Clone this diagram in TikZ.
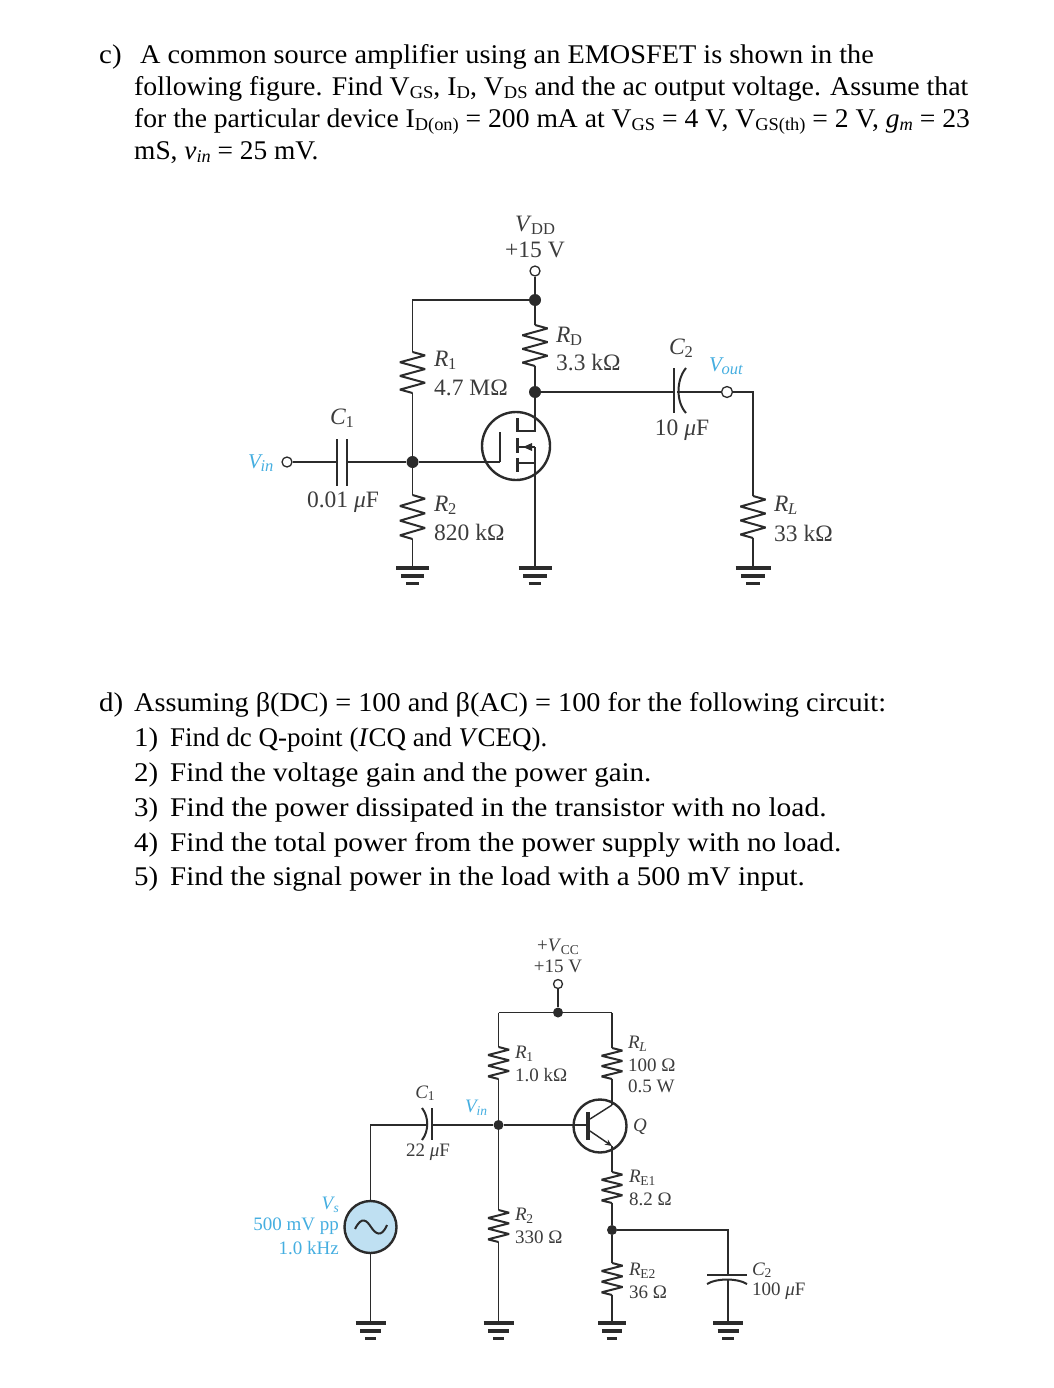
\documentclass[tikz,border=0pt]{standalone}
\usepackage{fontspec}
\usepackage{graphicx}
\setmainfont{Liberation Serif}
\newfontfamily\bodyf[FakeStretch=1.07]{Liberation Serif}
\usetikzlibrary{arrows.meta}
\definecolor{ink}{HTML}{2B2B2B}
\definecolor{lab}{HTML}{3C3C3C}
\definecolor{sky}{HTML}{45AEE0}
\definecolor{srcfill}{HTML}{BFE0F2}
\newcommand\bsub[1]{{\fontsize{18}{18}\selectfont\raisebox{-2.5pt}{#1}}}
\newcommand\tsub[1]{\kern-0.5pt{\fontsize{16.5}{16.5}\selectfont\raisebox{-3pt}{#1}}}
\newcommand\ssub[1]{\kern-0.5pt{\fontsize{13.5}{13.5}\selectfont\raisebox{-2.5pt}{#1}}}
\newcommand\resv[5]{% name x ytop ybot amp
  \coordinate (#1t) at (#2,#3); \coordinate (#1b) at (#2,#4);
  \pgfmathsetmacro\hst{(#4-#3)/6}\pgfmathsetmacro\hhs{(#4-#3)/12}
  \draw[wire,line width=2pt,miter limit=3] (#1t) -- ++(#5,\hhs) -- ++(-2*#5,\hst) -- ++(2*#5,\hst) -- ++(-2*#5,\hst) -- ++(2*#5,\hst) -- ++(-2*#5,\hst) -- (#1b);}
\newcommand\gnd[4]{% name x y halfwidth
  \coordinate (#1) at (#2,#3);
  \draw[gndbar] (#2-#4,#3) -- (#2+#4,#3);
  \draw[gndbar] (#2-0.7*#4,#3+8) -- (#2+0.7*#4,#3+8);
  \draw[gndbar] (#2-0.38*#4,#3+15.5) -- (#2+0.38*#4,#3+15.5);}
\tikzset{
  wire/.style={draw=ink,line width=1.45pt},
  gndbar/.style={draw=ink,line width=3.2pt},
  plate/.style={draw=ink,line width=2pt},
  dot/.style={circle,fill=ink,inner sep=0pt,minimum size=#1},
  term/.style={circle,draw=ink,fill=white,line width=1.3pt,inner sep=0pt,minimum size=#1},
  body/.style={anchor=base west,inner sep=0pt,text=black,font=\bodyf\fontsize{27}{27}\selectfont},
  tl/.style={anchor=west,inner sep=0pt,text=lab,font=\fontsize{23.5}{23.5}\selectfont},
  tc/.style={inner sep=0pt,text=lab,font=\fontsize{23.5}{23.5}\selectfont},
  bl/.style={anchor=west,inner sep=0pt,text=lab,font=\fontsize{19}{19}\selectfont},
  bc/.style={inner sep=0pt,text=lab,font=\fontsize{19}{19}\selectfont},
}
\begin{document}
\begin{tikzpicture}[x=1pt,y=-1pt]
\useasboundingbox (0,0) rectangle (1053,1388);
% ---------- text
\node[body] (c0) at (99,64) {c)};
\node[body] (c1) at (140,64) {\scalebox{.979}[1]{A common source amplifier using an EMOSFET is shown in the}};
\node[body] (c2) at (134,96) {\scalebox{.962}[1]{following figure. Find V\bsub{GS}, I\bsub{D}, V\bsub{DS} and the ac output voltage. Assume that}};
\node[body] (c3) at (134,128) {\scalebox{.956}[1]{for the particular device I\bsub{D(on)} = 200 mA at V\bsub{GS} = 4 V, V\bsub{GS(th)} = 2 V, \textit{g\bsub{\textit{m}}} = 23}};
\node[body] (c4) at (134,160) {\scalebox{.948}[1]{mS, \textit{v\bsub{\textit{in}}} = 25 mV.}};
\node[body] (d0) at (99,711) {d)};
\node[body] (d1) at (134,711) {\scalebox{.978}[1]{Assuming β(DC) = 100 and β(AC) = 100 for the following circuit:}};
\node[body] (d2) at (134,746) {1)};
\node[body] (d2t) at (170,746) {\scalebox{.935}[1]{Find dc Q-point (\textit{I}CQ and \textit{V}CEQ).}};
\node[body] (d3) at (134,781) {2)};
\node[body] (d3t) at (170,781) {\scalebox{1.003}[1]{Find the voltage gain and the power gain.}};
\node[body] (d4) at (134,816) {3)};
\node[body] (d4t) at (170,816) {\scalebox{1.02}[1]{Find the power dissipated in the transistor with no load.}};
\node[body] (d5) at (134,851) {4)};
\node[body] (d5t) at (170,851) {\scalebox{1.014}[1]{Find the total power from the power supply with no load.}};
\node[body] (d6) at (134,885) {5)};
\node[body] (d6t) at (170,885) {\scalebox{1.001}[1]{Find the signal power in the load with a 500 mV input.}};
% ---------- circuit c
\node[term=10pt] (vdd) at (535,271) {};
\node[dot=12pt] (ntop) at (535,300) {};
\coordinate (cor1) at (412.5,300);
\resv{R1a}{412.5}{352}{393}{12.5}
\resv{R2a}{412.5}{495}{539}{12.5}
\resv{RDa}{535}{325}{366}{12.5}
\resv{RLa}{753}{496}{538}{12.5}
\node[dot=12pt] (jg) at (412.5,462) {};
\node[dot=12pt] (jd) at (535,392) {};
\gnd{g1}{412.5}{568}{16.5}
\gnd{g2}{535}{568}{16.5}
\gnd{g3}{753}{568}{17.5}
\draw[wire] (vdd) -- (ntop);
\draw[wire] (ntop) -- (cor1) -- (R1at);
\draw[wire] (ntop) -- (RDat);
\draw[wire] (RDab) -- (jd);
\draw[wire] (R1ab) -- (jg);
\draw[wire] (jg) -- (R2at);
\draw[wire] (R2ab) -- (g1);
% input
\node[term=10pt] (vin) at (287,462) {};
\coordinate (c1a) at (337,462); \coordinate (c1b) at (347,462);
\draw[wire] (vin) -- (c1a);
\draw[wire] (c1b) -- (jg);
\draw[plate] (337,439) -- (337,486);
\draw[plate] (347,439) -- (347,486);
% MOSFET
\node[circle,draw=ink,line width=2.4pt,inner sep=0pt,minimum size=68pt] (mos) at (516,446) {};
\coordinate (gt) at (500,462); \coordinate (dr) at (535,431);
\coordinate (so) at (535,463); \coordinate (bd) at (535,447); \coordinate (ch) at (517,447);
\draw[wire] (jg) -- (gt);
\draw[plate,line width=2.6pt] (500,432) -- (gt);
\draw[plate,line width=3pt] (517,418) -- (517,432);
\draw[plate,line width=3pt] (517,438) -- (517,453);
\draw[plate,line width=3pt] (517,458) -- (517,472);
\draw[wire] (jd) -- (dr) -- (517,431);
\draw[wire] (so) -- (517,463);
\draw[wire] (so) -- (g2);
\draw[wire] (so) -- (bd);
\draw[wire] (bd) -- (ch);
\fill[ink] (523,447) -- (532,443) -- (532,451) -- cycle;
% output
\coordinate (c2a) at (674,392); \coordinate (c2b) at (677,392);
\node[term=11pt] (vo) at (727,392) {};
\coordinate (cor2) at (753,392);
\draw[wire] (jd) -- (c2a);
\draw[wire] (c2b) -- (vo);
\draw[wire] (vo) -- (cor2) -- (RLat);
\draw[wire] (RLab) -- (g3);
\draw[plate] (674,368) -- (674,413);
\draw[plate] (686,368) .. controls (676,380) and (676,402) .. (686,413);
% labels
\node[tc] (lvdd) at (535,225) {\textit{V}\tsub{DD}};
\node[tc] (l15) at (535,250) {+15 V};
\node[tl] (lr1) at (434,360) {\textit{R}\tsub{1}};
\node[tl] (lr1v) at (434,388) {4.7 MΩ};
\node[tl] (lr2) at (434,505) {\textit{R}\tsub{2}};
\node[tl] (lr2v) at (434,532) {820 kΩ};
\node[tl] (lrd) at (556,336) {\textit{R}\tsub{D}};
\node[tl] (lrdv) at (556,363) {3.3 kΩ};
\node[tc] (lc1) at (342,418) {\textit{C}\tsub{1}};
\node[tc] (lc1v) at (343,502) {0.01 \textit{μ}F};
\node[tc] (lc2) at (681,348) {\textit{C}\tsub{2}};
\node[tc] (lc2v) at (682,430) {10 \textit{μ}F};
\node[tl] (lrl) at (774,505) {\textit{R}\tsub{\textit{L}}};
\node[tl] (lrlv) at (774,533) {33 kΩ};
\node[tl,text=sky,font=\fontsize{21}{21}\selectfont] (lvi) at (248,463) {\textit{V}\kern-2pt\tsub{\textit{in}}};
\node[tl,text=sky,font=\fontsize{21}{21}\selectfont] (lvo) at (709,366) {\textit{V}\kern-2pt\tsub{\textit{out}}};
% ---------- circuit d
\node[term=9pt] (vcc) at (558,984) {};
\node[dot=10pt] (mtop) at (558,1012.5) {};
\coordinate (cl) at (498.5,1012.5); \coordinate (cr) at (612,1012.5);
\resv{Rb1}{498.5}{1047}{1079}{10.5}
\resv{Rb2}{498.5}{1210}{1242}{10.5}
\resv{Rbl}{612}{1048}{1079}{10.5}
\resv{Re1}{612}{1172}{1203}{10.5}
\resv{Re2}{612}{1263}{1295}{10.5}
\node[dot=10pt] (jb) at (498.5,1125) {};
\node[dot=10pt] (je) at (612,1230) {};
\gnd{h1}{370.5}{1323}{15}
\gnd{h2}{498.5}{1323}{15}
\gnd{h3}{612}{1323}{14}
\gnd{h4}{728}{1323}{15}
\draw[wire] (vcc) -- (mtop);
\draw[wire] (cl) -- (mtop) -- (cr);
\draw[wire] (cl) -- (Rb1t);
\draw[wire] (cr) -- (Rblt);
\draw[wire] (Rb1b) -- (jb);
\draw[wire] (jb) -- (Rb2t);
\draw[wire] (Rb2b) -- (h2);
% source and C1
\node[circle,draw=ink,fill=srcfill,line width=2.4pt,inner sep=0pt,minimum size=52pt] (vs) at (370.5,1227) {};
\draw[plate] (355,1229) .. controls (362,1215) and (367,1221) .. (371,1227) .. controls (375,1233) and (381,1239) .. (387,1225);
\coordinate (cs) at (370.5,1125); \coordinate (cc1) at (427,1125); \coordinate (cc2) at (432,1125);
\draw[wire] (vs) -- (cs) -- (cc1);
\draw[wire] (cc2) -- (jb);
\draw[wire] (vs) -- (h1);
\draw[plate] (432,1108) -- (432,1140);
\draw[plate] (422,1108) .. controls (429,1117) and (429,1131) .. (422,1140);
% BJT
\node[circle,draw=ink,line width=2.4pt,inner sep=0pt,minimum size=53pt] (q) at (600,1126) {};
\coordinate (bb) at (588,1125); \coordinate (qc) at (612,1105); \coordinate (qe) at (612,1146);
\draw[wire] (jb) -- (bb);
\draw[plate,line width=4pt] (588,1112) -- (588,1140);
\draw[wire] (590,1119) -- (qc);
\draw[wire,-{Stealth[length=7pt,width=6pt]}] (590,1131) -- (qe);
\draw[wire] (Rblb) -- (qc);
\draw[wire] (qe) -- (Re1t);
\draw[wire] (Re1b) -- (je);
\draw[wire] (je) -- (Re2t);
\draw[wire] (Re2b) -- (h3);
% C2
\coordinate (cor3) at (728,1230); \coordinate (cp1) at (728,1275); \coordinate (cp2) at (728,1280);
\draw[wire] (je) -- (cor3) -- (cp1);
\draw[wire] (cp2) -- (h4);
\draw[plate] (707,1275) -- (747,1275);
\draw[plate] (707,1284) .. controls (716,1278) and (738,1278) .. (747,1284);
% labels
\node[bc] (lvcc) at (558,947) {+\textit{V}\ssub{CC}};
\node[bc] (lv15) at (558,966) {+15 V};
\node[bl] (mr1) at (515,1054) {\textit{R}\ssub{1}};
\node[bl] (mr1v) at (515,1075) {1.0 kΩ};
\node[bl] (mr2) at (515,1216) {\textit{R}\ssub{2}};
\node[bl] (mr2v) at (515,1237) {330 Ω};
\node[bl] (mrl) at (628,1044) {\textit{R}\ssub{\textit{L}}};
\node[bl] (mrlv) at (628,1065) {100 Ω};
\node[bl] (mrlw) at (628,1086) {0.5 W};
\node[bl] (mq) at (633,1127) {\textit{Q}};
\node[bl] (mre1) at (629,1178) {\textit{R}\ssub{E1}};
\node[bl] (mre1v) at (629,1199) {8.2 Ω};
\node[bl] (mre2) at (629,1271) {\textit{R}\ssub{E2}};
\node[bl] (mre2v) at (629,1292) {36 Ω};
\node[bl] (mc2) at (752,1270) {\textit{C}\ssub{2}};
\node[bl] (mc2v) at (752,1291) {100 \textit{μ}F};
\node[bc] (mc1) at (425,1093) {\textit{C}\ssub{1}};
\node[bc] (mc1v) at (428,1152) {22 \textit{μ}F};
\node[bl,text=sky] (mvi) at (465,1108) {\textit{V}\kern-1.5pt\ssub{\textit{in}}};
\node[anchor=east,inner sep=0pt,text=sky,font=\fontsize{19}{19}\selectfont] (mvs) at (339,1205) {\textit{V}\kern-1pt\ssub{\textit{s}}};
\node[anchor=east,inner sep=0pt,text=sky,font=\fontsize{19}{19}\selectfont] (mvs1) at (339,1226) {500 mV pp};
\node[anchor=east,inner sep=0pt,text=sky,font=\fontsize{19}{19}\selectfont] (mvs2) at (339,1248) {1.0 kHz};
\end{tikzpicture}
\end{document}
